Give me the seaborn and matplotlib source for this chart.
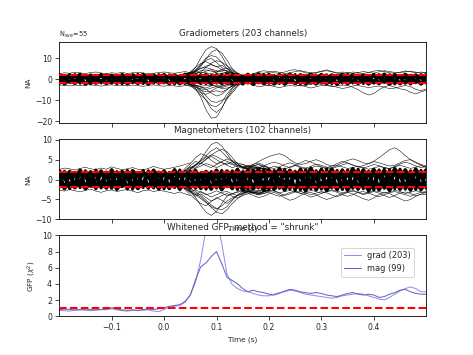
import numpy as np
import pandas as pd
import seaborn as sns
import matplotlib.pyplot as plt

sns.set_style("ticks")
plt.rcParams.update({
    "xtick.labelsize": 7.5,
    "ytick.labelsize": 7.5,
    "axes.labelsize": 7,
    "axes.titlesize": 8.5,
    "axes.edgecolor": "black",
})

# sample grids (s)
t_full = np.round(np.linspace(-0.2, 0.5, 71), 2)
t_early = t_full[:26]
t_evoked = np.round(np.linspace(0.02, 0.20, 19), 2)
t_late = np.round(np.linspace(0.15, 0.50, 36), 2)

# ---------------- gradiometers (whitened, NA) ----------------
grad_noise = [
    [2.1,-1.8,2.3,-2.0,1.7,-2.2,2.0,-1.6,2.4,-1.9,
     1.8,-2.3,2.1,-1.7,2.2,-2.0,1.9,-2.4,2.0,-1.8,
     2.3,-2.1,1.6,-2.2,2.4,-1.9,2.0,-2.3,1.8,-2.1,
     2.2,-1.7,2.5,-2.0,1.9,-2.4,2.1,-1.8,2.3,-2.2,
     1.7,-2.0,2.4,-1.9,2.0,-2.3,1.8,-2.1,2.2,-1.6,
     2.3,-2.0,1.9,-2.4,2.1,-1.8,2.2,-2.1,1.7,-2.3,
     2.4,-1.9,2.0,-2.2,1.8,-2.0,2.3,-2.4,1.9,-2.1,
     2.2],
    [-2.2,1.9,-1.7,2.3,-2.1,1.8,-2.4,2.0,-1.9,2.2,
     -2.0,1.6,-2.3,2.1,-1.8,2.4,-2.2,1.7,-2.0,2.3,
     -1.9,2.2,-2.4,1.8,-2.1,2.0,-1.7,2.3,-2.2,1.9,
     -2.0,2.4,-1.8,2.1,-2.3,1.7,-2.0,2.2,-1.9,2.4,
     -2.1,1.8,-2.2,2.0,-1.7,2.3,-2.4,1.9,-2.0,2.1,
     -1.8,2.2,-2.3,1.7,-2.0,2.4,-1.9,2.1,-2.2,1.8,
     -2.0,2.3,-1.7,2.2,-2.4,1.9,-2.1,2.0,-1.8,2.3,
     -2.0],
    [2.4,0.6,2.2,0.9,2.5,0.4,2.1,0.8,2.3,0.5,
     2.0,0.7,2.4,0.6,2.2,0.9,2.5,0.5,2.1,0.8,
     2.3,0.4,2.2,0.7,2.5,0.6,2.0,0.9,2.4,0.5,
     2.2,0.8,2.6,0.6,2.3,0.9,2.5,0.4,2.7,0.7,
     2.4,0.6,2.2,0.9,2.5,0.5,2.3,0.8,2.6,0.6,
     2.4,0.7,2.2,0.9,2.5,0.5,2.3,0.8,2.1,0.6,
     2.4,0.9,2.6,0.5,2.3,0.7,2.5,0.8,2.2,0.6,
     2.4],
    [-0.5,-2.4,-0.8,-2.2,-0.4,-2.5,-0.9,-2.1,-0.6,-2.3,
     -0.7,-2.0,-0.5,-2.4,-0.9,-2.2,-0.6,-2.5,-0.4,-2.1,
     -0.8,-2.3,-0.5,-2.4,-0.7,-2.2,-0.9,-2.0,-0.6,-2.5,
     -0.4,-2.3,-0.8,-2.6,-0.5,-2.4,-0.9,-2.7,-0.6,-2.3,
     -0.7,-2.5,-0.4,-2.6,-0.8,-2.2,-0.6,-2.4,-0.9,-2.5,
     -0.5,-2.3,-0.7,-2.6,-0.4,-2.4,-0.8,-2.2,-0.6,-2.5,
     -0.9,-2.3,-0.5,-2.6,-0.7,-2.4,-0.8,-2.2,-0.6,-2.5,
     -0.7],
    [1.4,0.3,-1.2,-0.5,1.1,0.6,-1.4,-0.2,1.3,0.4,
     -1.1,-0.6,1.5,0.2,-1.3,-0.4,1.2,0.5,-1.5,-0.3,
     1.1,0.6,-1.2,-0.5,1.4,0.3,-1.1,-0.6,1.3,0.2,
     -1.4,-0.4,1.2,0.5,-1.3,-0.2,1.5,0.4,-1.2,-0.6,
     1.1,0.3,-1.4,-0.5,1.3,0.6,-1.1,-0.3,1.4,0.2,
     -1.3,-0.5,1.2,0.4,-1.5,-0.6,1.1,0.3,-1.2,-0.4,
     1.4,0.5,-1.3,-0.2,1.2,0.6,-1.4,-0.3,1.3,0.4,
     -1.1],
    [-0.4,1.3,0.5,-1.2,-0.3,1.4,0.2,-1.1,-0.6,1.2,
     0.4,-1.4,-0.2,1.1,0.6,-1.3,-0.5,1.5,0.3,-1.2,
     -0.4,1.3,0.2,-1.5,-0.6,1.1,0.5,-1.3,-0.3,1.4,
     0.6,-1.2,-0.2,1.3,0.4,-1.1,-0.5,1.4,0.3,-1.3,
     -0.6,1.2,0.2,-1.4,-0.4,1.1,0.5,-1.2,-0.3,1.5,
     0.6,-1.3,-0.2,1.2,0.4,-1.4,-0.5,1.1,0.3,-1.2,
     -0.6,1.4,0.2,-1.3,-0.4,1.2,0.5,-1.1,-0.3,1.3,
     0.4],
]
grad_early = [
    [2.6,3.0,2.8,3.3,2.9,2.7,3.1,3.4,2.9,2.6,3.0,2.8,3.2,
     2.7,3.0,3.3,2.9,2.6,2.8,3.1,3.4,3.0,2.8,3.2,3.6,3.0],
    [-2.7,-3.0,-3.2,-2.8,-3.1,-2.9,-2.6,-3.0,-3.3,-2.8,-2.7,-3.1,-2.9,
     -3.2,-2.8,-3.0,-3.4,-2.9,-2.7,-3.1,-3.3,-2.9,-3.2,-3.5,-3.0,-2.6],
]
grad_evoked = [
    [0.5,1.0,1.8,3.0,5.5,10.0,14.0,15.4,14.5,11.0,6.5,3.5,2.0,1.0,0.5,0.2,0.0,-0.2,0.1],
    [0.3,0.6,1.2,2.0,3.5,6.0,9.5,12.8,14.0,12.5,9.0,5.0,2.5,1.2,0.6,0.3,0.5,0.2,0.0],
    [-0.2,0.4,1.0,2.2,4.0,7.0,10.0,11.2,10.5,8.0,5.0,3.0,2.0,1.5,0.8,0.5,0.1,0.3,0.0],
    [0.2,0.8,2.0,3.5,5.5,7.5,8.3,7.0,5.8,6.5,5.0,3.2,1.8,1.0,0.4,0.2,0.0,0.1,-0.1],
    [0.0,0.5,1.5,2.8,4.0,5.2,5.5,4.8,4.0,3.5,3.0,2.2,1.5,0.8,0.2,0.0,-0.3,0.0,0.2],
    [-0.3,-0.8,-1.5,-2.5,-4.5,-8.5,-14.5,-18.5,-18.0,-14.0,-8.5,-4.5,-2.2,-1.0,-0.5,-0.2,0.0,0.2,0.0],
    [0.0,-0.4,-1.0,-2.0,-3.5,-6.0,-10.0,-14.0,-15.8,-13.5,-9.5,-5.5,-3.0,-1.5,-0.8,-0.4,0.0,-0.2,0.0],
    [0.2,-0.3,-0.8,-1.5,-3.0,-5.0,-8.0,-10.5,-11.0,-10.0,-9.0,-6.5,-3.5,-1.5,-0.6,-0.2,0.1,0.0,0.2],
    [-0.1,-0.5,-1.2,-2.5,-4.5,-6.5,-7.2,-6.0,-5.5,-6.2,-4.8,-3.0,-1.8,-0.8,-0.3,0.0,0.2,-0.1,0.0],
    [0.0,-0.6,-1.5,-2.8,-3.8,-4.5,-5.0,-4.2,-3.5,-4.0,-3.2,-2.5,-1.5,-0.8,-0.4,-0.1,0.0,0.1,-0.2],
    [0.4,1.2,2.5,3.2,3.6,2.8,3.8,4.5,3.0,2.5,3.4,2.8,1.6,0.9,0.5,0.2,0.0,-0.1,0.1],
    [-0.5,-1.4,-2.6,-3.4,-3.0,-3.8,-4.2,-3.2,-2.8,-3.5,-2.6,-2.0,-1.6,-1.0,-0.5,-0.1,0.0,0.0,0.2],
    [0.3,0.9,1.8,3.0,4.5,6.5,9.0,9.8,8.0,5.5,3.5,2.5,1.5,0.8,0.3,0.0,0.2,-0.1,0.0],
    [-0.2,-0.9,-1.8,-3.2,-5.0,-7.5,-9.8,-12.5,-13.0,-11.0,-7.0,-4.0,-2.5,-1.2,-0.5,0.0,0.1,0.0,-0.2],
    [0.1,0.6,1.4,2.4,3.8,5.0,6.2,6.8,6.0,4.5,3.8,3.0,2.0,1.2,0.5,0.1,-0.2,0.0,0.1],
    [-0.1,-0.7,-1.6,-2.6,-3.6,-5.2,-6.0,-5.6,-4.2,-3.0,-2.6,-2.0,-1.2,-0.6,-0.2,0.1,0.0,-0.1,0.0],
    [0.2,0.7,1.6,2.6,3.2,4.0,4.4,3.8,3.4,4.6,5.2,4.0,2.6,1.4,0.6,0.2,0.0,0.1,0.0],
    [-0.3,-0.9,-1.8,-2.4,-2.9,-3.6,-4.8,-6.5,-8.0,-7.2,-5.0,-3.2,-2.0,-1.0,-0.4,-0.1,0.1,0.0,0.0],
    [0.0,0.4,1.0,1.8,2.6,3.2,3.0,2.6,3.4,4.2,4.0,3.0,2.2,1.4,0.8,0.3,0.0,0.0,0.1],
    [0.1,-0.4,-1.0,-1.8,-2.8,-3.4,-3.0,-2.8,-3.6,-4.4,-4.2,-3.4,-2.4,-1.5,-0.8,-0.3,0.0,0.1,0.0],
    [0.5,1.4,2.4,3.0,2.6,3.4,5.6,7.5,8.8,8.0,6.4,4.6,3.0,1.8,0.9,0.4,0.1,0.0,-0.1],
]
grad_late = [
    [0.0,-0.5,-1.0,-1.8,-2.5,-3.0,-2.6,-2.0,-1.5,-1.8,-2.6,-3.2,-3.0,-2.4,-2.0,-2.5,-3.0,-3.5,
     -3.2,-2.8,-3.0,-3.8,-5.0,-6.5,-7.5,-6.8,-5.0,-3.5,-3.0,-3.8,-4.6,-5.0,-6.2,-7.0,-6.0,-5.2],
    [0.5,1.5,2.5,3.5,4.0,3.6,3.0,2.8,3.4,4.2,4.5,3.8,3.0,2.6,3.0,3.6,4.0,3.5,
     2.8,2.5,3.0,3.4,3.0,2.6,3.2,3.8,4.2,3.6,3.0,2.8,3.3,3.9,3.5,3.0,3.4,3.0],
    [-0.5,-1.5,-2.8,-3.6,-3.2,-2.8,-3.5,-4.0,-3.4,-3.0,-3.3,-2.9,-3.5,-4.2,-3.6,-3.0,-2.8,-3.2,
     -3.8,-4.4,-4.0,-3.2,-3.0,-3.5,-4.0,-3.6,-3.2,-3.8,-4.5,-4.2,-3.6,-3.0,-3.5,-4.8,-5.5,-4.6],
    [0.2,1.2,2.6,3.0,2.8,3.3,3.8,3.2,2.7,3.0,3.6,4.0,3.5,2.9,3.2,3.8,4.4,3.6,
     3.0,3.4,3.0,2.7,3.1,3.6,3.2,2.8,3.5,4.0,3.6,3.2,3.0,3.5,3.8,3.3,2.9,3.2],
]

# ---------------- magnetometers (whitened, NA) ----------------
mag_noise = [
    [2.0,-2.2,1.8,-1.9,2.3,-2.0,1.7,-2.3,2.1,-1.8,
     2.2,-2.1,1.9,-2.4,2.0,-1.7,2.3,-2.2,1.8,-2.0,
     2.1,-2.3,2.4,-1.8,1.9,-2.1,2.2,-2.0,1.7,-2.4,
     2.3,-1.9,2.0,-2.2,2.5,-2.1,1.8,-2.3,2.2,-2.6,
     2.4,-2.2,2.6,-2.4,2.2,-2.7,2.5,-2.3,2.1,-2.5,
     2.6,-2.2,2.3,-2.6,2.4,-2.1,2.5,-2.4,2.2,-2.6,
     2.3,-2.5,2.6,-2.2,2.4,-2.3,2.1,-2.6,2.5,-2.2,
     2.4],
    [-1.9,2.1,-2.3,1.8,-2.0,2.2,-1.7,2.4,-2.1,1.9,
     -2.2,2.0,-1.8,2.3,-2.4,1.7,-2.0,2.2,-2.1,1.9,
     -2.3,1.8,-2.0,2.4,-1.9,2.1,-2.2,1.7,-2.4,2.0,
     -2.1,2.3,-1.8,2.2,-2.5,2.0,-2.3,2.4,-2.1,2.6,
     -2.5,2.3,-2.2,2.6,-2.4,2.1,-2.6,2.5,-2.3,2.2,
     -2.4,2.6,-2.1,2.3,-2.5,2.4,-2.2,2.6,-2.3,2.1,
     -2.6,2.4,-2.2,2.5,-2.3,2.6,-2.4,2.2,-2.5,2.3,
     -2.2],
    [2.3,0.5,2.1,0.8,2.4,0.6,2.0,0.9,2.2,0.4,
     2.5,0.7,2.1,0.5,2.3,0.9,2.0,0.6,2.4,0.8,
     2.2,0.5,2.5,0.7,2.0,0.9,2.3,0.4,2.1,0.8,
     2.4,0.6,2.2,0.9,2.6,0.5,2.3,0.8,2.7,0.6,
     2.5,0.9,2.8,0.7,2.4,0.5,2.6,0.8,2.9,0.6,
     2.5,0.9,2.7,0.5,2.4,0.8,2.8,0.6,2.5,0.9,
     2.6,0.7,2.4,0.5,2.8,0.9,2.5,0.6,2.7,0.8,
     2.5],
    [-0.6,-2.3,-0.8,-2.1,-0.5,-2.4,-0.9,-2.0,-0.7,-2.2,
     -0.4,-2.5,-0.8,-2.1,-0.6,-2.3,-0.9,-2.0,-0.5,-2.4,
     -0.7,-2.2,-0.4,-2.5,-0.8,-2.1,-0.6,-2.3,-0.9,-2.4,
     -0.5,-2.6,-0.8,-2.3,-0.6,-2.7,-0.9,-2.4,-0.5,-2.8,
     -0.7,-2.5,-0.9,-2.7,-0.6,-2.4,-0.8,-2.9,-0.5,-2.6,
     -0.7,-2.8,-0.9,-2.5,-0.6,-2.7,-0.8,-2.4,-0.5,-2.9,
     -0.7,-2.6,-0.9,-2.8,-0.6,-2.5,-0.8,-2.7,-0.5,-2.6,
     -0.7],
    [1.6,0.2,-1.5,-0.6,1.3,0.7,-1.6,-0.1,1.5,0.5,
     -1.3,-0.7,1.7,0.1,-1.5,-0.5,1.4,0.6,-1.7,-0.2,
     1.3,0.7,-1.4,-0.6,1.6,0.2,-1.3,-0.7,1.5,0.1,
     -1.6,-0.5,1.4,0.6,-1.5,-0.1,1.7,0.5,-1.4,-0.7,
     1.3,0.2,-1.6,-0.6,1.5,0.7,-1.3,-0.2,1.6,0.1,
     -1.5,-0.6,1.4,0.5,-1.7,-0.7,1.3,0.2,-1.4,-0.5,
     1.6,0.6,-1.5,-0.1,1.4,0.7,-1.6,-0.2,1.5,0.5,
     -1.3],
    [-0.5,1.5,0.6,-1.4,-0.2,1.6,0.1,-1.3,-0.7,1.4,
     0.5,-1.6,-0.1,1.3,0.7,-1.5,-0.6,1.7,0.2,-1.4,
     -0.5,1.5,0.1,-1.7,-0.7,1.3,0.6,-1.5,-0.2,1.6,
     0.7,-1.4,-0.1,1.5,0.5,-1.3,-0.6,1.6,0.2,-1.5,
     -0.7,1.4,0.1,-1.6,-0.5,1.3,0.6,-1.4,-0.2,1.7,
     0.7,-1.5,-0.1,1.4,0.5,-1.6,-0.6,1.3,0.2,-1.4,
     -0.7,1.6,0.1,-1.5,-0.5,1.4,0.6,-1.3,-0.2,1.5,
     0.5],
]
mag_early = [
    [2.5,2.9,2.7,2.4,2.8,3.1,2.7,2.5,2.9,2.6,3.2,2.8,2.5,
     2.7,3.0,2.6,2.4,2.8,3.3,2.9,2.6,2.8,3.1,3.4,3.8,4.2],
    [-2.6,-2.9,-2.5,-2.8,-3.1,-2.7,-2.4,-2.9,-3.2,-2.8,-2.6,-3.0,-2.7,
     -2.5,-2.9,-3.3,-2.8,-2.6,-3.0,-2.7,-2.9,-3.2,-3.5,-3.1,-3.6,-4.0],
]
mag_evoked = [
    [0.3,0.8,1.5,2.5,3.5,5.0,7.0,8.8,9.4,8.5,6.5,4.5,3.5,3.0,2.8,2.5,2.2,2.0,1.8],
    [-0.2,-0.8,-1.8,-3.0,-4.5,-6.5,-8.2,-9.0,-8.0,-6.0,-4.2,-3.5,-3.2,-2.8,-2.5,-2.2,-2.0,-1.8,-1.6],
    [0.5,1.5,2.8,4.0,5.5,6.5,6.0,4.8,4.0,4.5,5.2,4.6,3.6,3.0,2.5,2.8,3.2,2.6,2.0],
    [0.2,1.0,2.0,3.5,4.6,4.0,5.2,5.8,5.0,4.2,3.8,4.5,4.0,3.2,2.8,3.4,3.8,3.0,2.5],
    [-0.4,-1.2,-2.5,-3.8,-5.0,-6.0,-6.6,-5.5,-4.5,-5.2,-6.0,-5.0,-4.0,-3.4,-3.0,-3.5,-3.8,-3.2,-2.6],
    [-0.3,-1.0,-2.0,-3.0,-4.2,-3.6,-4.5,-5.4,-4.8,-4.0,-3.5,-4.2,-4.6,-3.8,-3.2,-2.8,-3.3,-3.6,-3.0],
    [0.0,0.5,1.2,2.0,3.0,4.0,5.0,6.2,7.0,7.6,7.0,5.5,4.0,3.0,2.6,2.2,2.5,2.0,1.5],
    [0.0,-0.6,-1.4,-2.2,-3.0,-4.0,-5.2,-6.4,-7.2,-7.6,-6.8,-5.2,-3.8,-3.0,-2.8,-2.4,-2.0,-2.2,-1.8],
    [0.4,1.2,2.2,3.0,3.6,4.2,3.5,3.0,3.8,4.4,3.6,3.0,3.4,3.8,3.2,2.6,3.0,3.4,2.8],
    [-0.4,-1.0,-2.4,-3.2,-3.8,-3.0,-3.6,-4.4,-3.8,-3.2,-3.0,-3.6,-4.0,-3.4,-2.8,-3.2,-3.6,-3.0,-2.6],
    [0.2,0.9,1.8,2.8,3.8,4.6,5.6,6.2,5.8,5.0,4.6,4.0,3.6,3.2,3.4,3.0,2.6,2.8,2.4],
    [-0.2,-0.9,-1.8,-2.8,-3.8,-4.8,-5.8,-6.8,-7.4,-6.6,-5.4,-4.6,-4.0,-3.6,-3.0,-2.6,-2.8,-2.4,-2.2],
    [0.3,1.2,2.4,3.2,2.8,3.4,4.0,3.6,3.0,3.6,4.2,3.8,3.2,2.8,3.2,3.6,3.0,2.6,2.4],
    [-0.3,-1.2,-2.2,-3.0,-2.6,-3.2,-3.8,-3.4,-2.8,-3.4,-4.0,-3.6,-3.0,-2.6,-3.0,-3.4,-2.8,-2.5,-2.2],
    [0.0,0.6,1.6,2.6,3.6,4.8,6.0,7.2,8.0,7.0,5.6,4.8,4.2,3.8,3.4,3.8,4.2,3.6,3.0],
    [0.0,-0.6,-1.6,-2.6,-3.4,-4.4,-5.6,-7.0,-8.2,-8.6,-7.6,-6.0,-4.8,-4.0,-3.6,-3.2,-3.6,-3.0,-2.6],
]
mag_late = [
    [2.5,3.0,3.8,4.5,5.2,5.8,6.2,6.5,6.0,5.0,4.2,3.8,4.0,4.6,5.0,4.5,3.8,3.4,
     3.6,4.2,4.8,5.2,4.8,4.2,4.0,4.6,5.5,6.5,7.5,8.0,7.2,6.0,5.0,4.2,3.6,3.0],
    [3.0,3.5,3.2,2.8,3.4,4.0,4.4,4.0,3.4,3.0,3.5,4.2,4.8,4.4,3.8,3.2,3.0,3.4,
     4.0,4.6,4.2,3.6,3.2,3.5,4.0,4.5,4.2,3.8,3.4,3.6,4.2,4.8,5.0,4.4,3.8,3.4],
    [-3.0,-3.4,-4.0,-4.5,-4.2,-3.6,-3.2,-3.8,-4.6,-5.2,-4.8,-4.0,-3.4,-3.2,-3.8,-4.5,-5.0,-4.6,
     -4.0,-3.5,-3.2,-3.6,-4.2,-4.8,-5.2,-4.6,-3.8,-3.2,-3.5,-4.2,-4.8,-5.4,-5.0,-4.2,-3.6,-3.8],
    [-2.5,-3.0,-3.4,-3.0,-2.8,-3.2,-3.8,-4.2,-3.8,-3.2,-3.0,-3.4,-3.8,-4.4,-4.0,-3.5,-3.0,-2.8,
     -3.2,-3.8,-4.2,-3.8,-3.2,-3.0,-3.4,-3.9,-4.3,-3.8,-3.3,-3.0,-3.4,-3.8,-4.2,-3.6,-3.2,-3.0],
    [2.0,2.6,3.2,3.0,2.6,2.8,3.4,3.0,2.6,3.2,3.6,3.0,2.6,2.9,3.4,3.1,2.7,3.0,
     3.5,3.2,2.8,3.0,3.4,3.0,2.6,2.9,3.3,3.0,2.7,3.2,3.6,3.2,2.8,3.1,3.5,3.1],
    [-2.0,-2.6,-3.0,-3.4,-3.0,-2.6,-2.9,-3.3,-3.0,-2.7,-3.1,-3.5,-3.1,-2.7,-3.0,-3.4,-3.0,-2.6,
     -2.9,-3.3,-3.0,-2.7,-3.1,-3.6,-3.2,-2.8,-3.0,-3.4,-3.1,-2.7,-3.0,-3.5,-3.2,-2.8,-3.1,-3.4],
    [3.2,2.8,3.4,3.8,3.4,3.0,2.8,3.2,3.8,4.2,3.8,3.2,2.9,3.3,3.9,3.6,3.1,2.8,
     3.2,3.7,4.1,3.7,3.2,2.9,3.3,3.8,3.5,3.0,2.8,3.3,3.9,4.4,4.0,3.4,3.0,3.3],
    [-3.2,-2.8,-3.3,-3.9,-3.5,-3.0,-2.8,-3.4,-4.0,-3.6,-3.1,-2.9,-3.4,-3.8,-3.4,-3.0,-3.3,-3.9,
     -4.3,-3.8,-3.2,-2.9,-3.3,-3.8,-3.4,-3.0,-3.4,-4.0,-4.5,-4.0,-3.4,-3.1,-3.5,-4.1,-3.7,-3.2],
]

# ---------------- whitened GFP (chi^2) ----------------
gfp_grad = [0.7,0.65,0.6,0.7,0.75,0.7,0.65,0.7,0.8,0.75,
            0.9,0.75,0.65,0.6,0.7,0.65,0.7,0.75,0.6,0.55,
            0.8,1.1,1.2,1.3,1.7,2.6,4.2,7.0,10.8,12.8,
            12.2,9.0,5.2,3.9,3.4,3.1,3.0,2.8,2.6,2.5,
            2.5,2.7,2.9,3.0,3.2,3.1,2.9,2.7,2.6,2.5,
            2.4,2.3,2.2,2.3,2.5,2.6,2.7,2.8,2.7,2.5,
            2.3,2.1,2.0,2.3,2.7,3.1,3.4,3.6,3.4,3.0,3.0]
gfp_mag = [0.8,0.85,0.8,0.75,0.8,0.85,0.8,0.75,0.8,0.85,
           1.0,0.85,0.75,0.7,0.75,0.7,0.8,0.85,0.8,0.9,
           1.0,1.2,1.3,1.4,1.8,2.6,4.5,6.1,6.6,7.4,
           8.0,6.5,4.8,4.4,4.0,3.4,3.0,3.2,3.0,2.9,
           2.7,2.6,2.8,3.1,3.3,3.2,3.0,2.9,2.8,2.9,
           2.8,2.6,2.5,2.4,2.6,2.8,2.9,2.7,2.6,2.7,
           2.6,2.3,2.4,2.7,2.9,3.2,3.3,3.0,2.8,2.7,2.7]
gfp_labels = ["grad (203)", "mag (99)"]
gfp_colors = ["#8f8ff0", "#6565c0"]

panel_titles = ["Gradiometers (203 channels)", "Magnetometers (102 channels)"]
n_ave = 55


def to_long(times, traces, name):
    frames = []
    for i, tr in enumerate(traces):
        frames.append(pd.DataFrame({"time": times, "value": tr, "unit": f"{name}{i}"}))
    return pd.concat(frames, ignore_index=True)


fig, axes = plt.subplots(3, 1, figsize=(6.4, 4.8), dpi=74)
xticks = [-0.1, 0.0, 0.1, 0.2, 0.3, 0.4]

panels = [
    (grad_noise, grad_early, grad_evoked, grad_late, (-20.7, 17.4), [-20, -10, 0, 10], 2.5),
    (mag_noise, mag_early, mag_evoked, mag_late, (-10, 10.2), [-10, -5, 0, 5, 10], 3.0),
]
for ax, title, (noise, early, evoked, late, ylim, yticks, band_lw) in zip(axes[:2], panel_titles, panels):
    sns.lineplot(data=to_long(t_full, noise, "n"), x="time", y="value", units="unit",
                 estimator=None, color="k", linewidth=band_lw, ax=ax)
    thin = pd.concat([to_long(t_early, early, "w"),
                      to_long(t_evoked, evoked, "e"),
                      to_long(t_late, late, "l")])
    sns.lineplot(data=thin, x="time", y="value", units="unit",
                 estimator=None, color="k", linewidth=0.5, ax=ax)
    for lvl in (1.96, -1.96):
        ax.axhline(lvl, color="r", linestyle="--", linewidth=2, zorder=5)
    ax.set_xlim(-0.2, 0.5)
    ax.set_ylim(*ylim)
    ax.set_yticks(yticks)
    ax.set_xticks(xticks)
    ax.set_xticklabels([])
    ax.set_ylabel("NA")
    ax.set_xlabel("")
    ax.set_title(title)

axes[0].text(0, 1.03, r"N$_{\mathrm{ave}}$=" + str(n_ave), transform=axes[0].transAxes,
             fontsize=6.5, va="bottom", ha="left")
# in the source figure this label sits under the middle panel and runs into the GFP title
axes[1].set_xlabel("Time (s)", labelpad=-1)

gfp = pd.concat([
    pd.DataFrame({"time": t_full, "gfp": vals, "kind": lab})
    for vals, lab in zip([gfp_grad, gfp_mag], gfp_labels)
], ignore_index=True)
ax = axes[2]
sns.lineplot(data=gfp, x="time", y="gfp", hue="kind", palette=dict(zip(gfp_labels, gfp_colors)),
             linewidth=1, ax=ax)
ax.axhline(1, color="r", linestyle="--", linewidth=2, zorder=5)
ax.set_xlim(-0.2, 0.5)
ax.set_ylim(0, 10)
ax.set_yticks([0, 2, 4, 6, 8, 10])
ax.set_xticks(xticks)
ax.set_xlabel("Time (s)")
ax.set_ylabel(r"GFP ($\chi^2$)")
ax.set_title('Whitened GFP, method = "shrunk"')
sns.move_legend(ax, "upper right", bbox_to_anchor=(0.967, 0.846), borderaxespad=0,
                title=None, frameon=True, fontsize=8)

fig.savefig("out.png", dpi=74)
